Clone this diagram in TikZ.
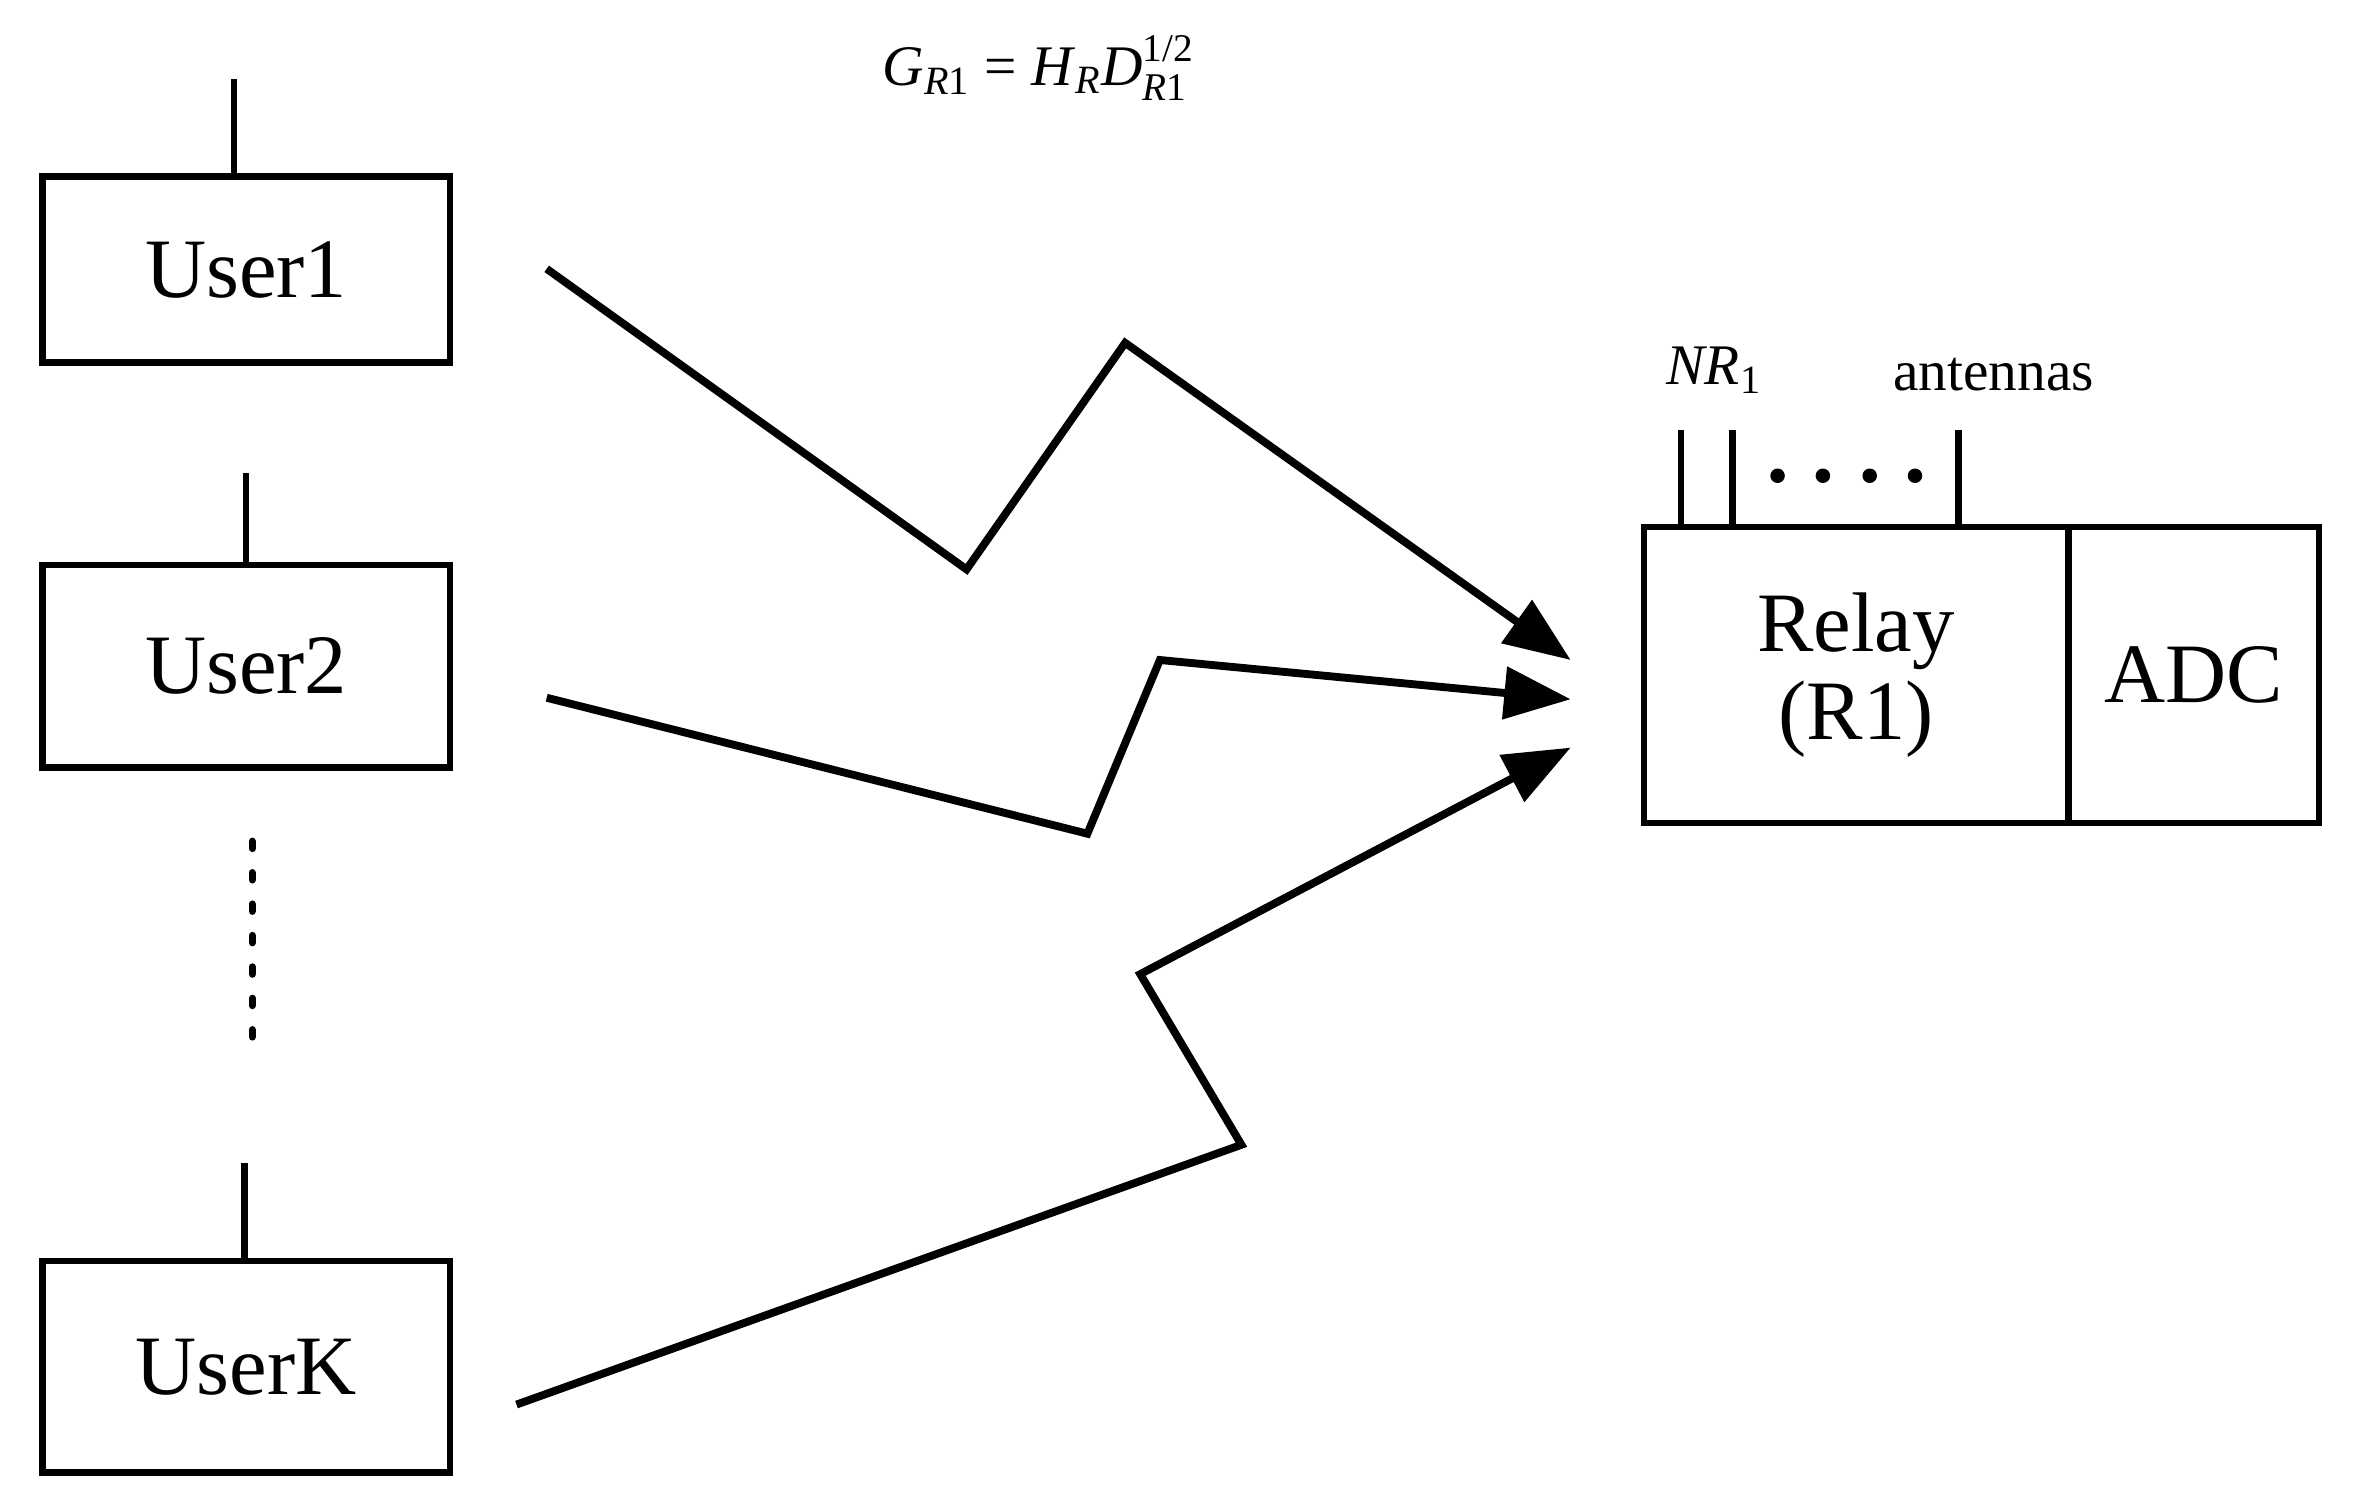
\documentclass[tikz,border=0pt]{standalone}
\usepackage{fontspec}
\setmainfont{Liberation Serif}
\usetikzlibrary{arrows.meta}
\begin{document}
\begin{tikzpicture}[x=0.5pt,y=-0.5pt,
  box/.style={draw,line width=2.2pt,inner sep=0pt},
  ln/.style={line width=2.2pt},
  arr/.style={line width=2.6pt,-{Triangle[length=22pt,width=17pt]}},
  big/.style={font=\fontsize{28}{33}\selectfont},
  sm/.style={font=\fontsize{19}{22}\selectfont},
  tiny/.style={font=\fontsize{13}{15}\selectfont}]
\useasboundingbox (0,0) rectangle (1560,993);
\node[box,big,minimum width=135pt,minimum height=61.5pt] (u1) at (163,178.5) {User1};
\node[box,big,minimum width=135pt,minimum height=67pt] (u2) at (163,441) {User2};
\node[box,big,minimum width=135pt,minimum height=70pt] (uk) at (163,905) {UserK};
\coordinate (a1) at (155,52); \coordinate (a2) at (163,313); \coordinate (ak) at (162,770);
\draw[ln] (a1) -- (155,115);
\draw[ln] (a2) -- (163,372);
\draw[ln] (ak) -- (162,833);
\draw[line width=2.4pt,dash pattern=on 2.4pt off 8pt,line cap=round] (167,557) -- (167,700);
\node[box,big,minimum width=140.5pt,minimum height=98pt,align=center] (relay) at (1229,447) {Relay\\[-4pt](R1)};
\node[box,big,minimum width=83pt,minimum height=98pt,anchor=west] (adc) at ([xshift=-2.2pt]relay.east) {ADC};
\foreach \x in {1113,1147,1297} \draw[ln] (\x,285) -- (\x,347);
\foreach \x in {1177,1207,1238,1268} \fill (\x,315) circle (2.4pt);
\node[sm] (nr) at (1135,245) {\textit{NR}\textsubscript{1}};
\node[sm] (ant) at (1320,248) {antennas};
\node[sm] (eq) at (685,45) {\textit{G}\textsubscript{\textit{R}1} = \textit{H}\textsubscript{\textit{R}}\textit{D}\rlap{\raisebox{8pt}{\fontsize{13}{15}\selectfont 1/2}}\raisebox{-5pt}{\fontsize{13}{15}\selectfont\textit{R}1}};
\coordinate (s1) at (362,178); \coordinate (e1) at (1040,437);
\coordinate (s2) at (362,462); \coordinate (e2) at (1040,463);
\coordinate (s3) at (342,930); \coordinate (e3) at (1040,495);
\draw[arr] (s1) -- (640,377) -- (745,227) -- (e1);
\draw[arr] (s2) -- (720,552) -- (768,437) -- (e2);
\draw[arr] (s3) -- (822,758) -- (755,645) -- (e3);
\end{tikzpicture}
\end{document}
